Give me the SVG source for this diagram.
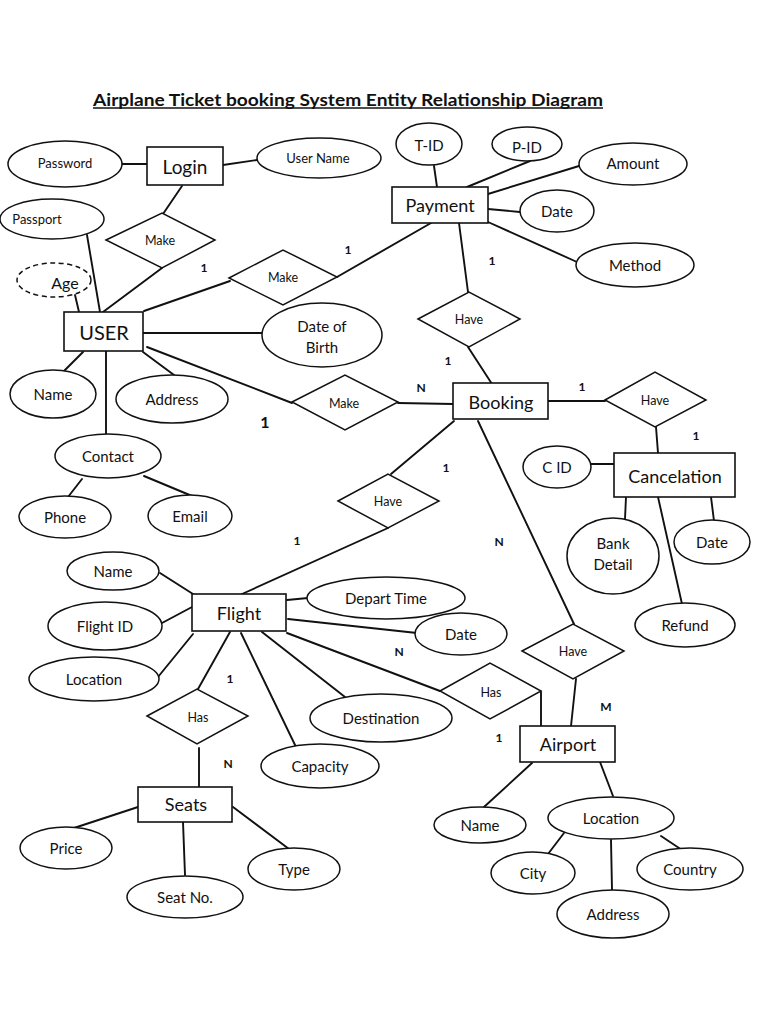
<svg xmlns="http://www.w3.org/2000/svg" width="768" height="1024" viewBox="0 0 768 1024">
<style>
text{font-family:Lato,"Open Sans","DejaVu Sans",sans-serif;fill:#111;text-anchor:middle;dominant-baseline:central}
.ent rect{fill:#fff;stroke:#111;stroke-width:1.6}
.ent text{font-size:18px}
.att ellipse{fill:#fff;stroke:#111;stroke-width:1.5}
.att text{font-size:15px}
.att.sm text{font-size:13px}
.rel polygon{fill:#fff;stroke:#111;stroke-width:1.5}
.rel text{font-size:12.5px}
#connectors line{stroke:#111;stroke-width:1.9;stroke-linecap:round}
.card{font-size:12px;font-weight:bold}
.card.big{font-size:16px}
.title{font-size:17.5px;font-weight:bold}
</style>
<rect width="768" height="1024" fill="#fff"/>
<text class="title" x="348" y="99" textLength="510" lengthAdjust="spacingAndGlyphs">Airplane Ticket booking System Entity Relationship Diagram</text>
<line x1="93" y1="108" x2="603" y2="108" stroke="#111" stroke-width="1.4"/>

<g id="connectors">
<line x1="122" y1="164" x2="147" y2="164"/>
<line x1="223" y1="165" x2="257" y2="160"/>
<line x1="182" y1="186" x2="163" y2="214"/>
<line x1="162" y1="268" x2="103" y2="312"/>
<line x1="87" y1="235" x2="100" y2="312"/>
<line x1="75" y1="295" x2="79" y2="312"/>
<line x1="144" y1="311" x2="230" y2="281"/>
<line x1="337" y1="277" x2="431" y2="223"/>
<line x1="143" y1="333" x2="262" y2="333"/>
<line x1="83" y1="352" x2="63" y2="372"/>
<line x1="143" y1="352" x2="174" y2="375"/>
<line x1="106" y1="351" x2="106" y2="434"/>
<line x1="147" y1="347" x2="292" y2="403"/>
<line x1="398" y1="403" x2="453" y2="404"/>
<line x1="82" y1="479" x2="68" y2="497"/>
<line x1="144" y1="476" x2="192" y2="496"/>
<line x1="434" y1="166" x2="437" y2="187"/>
<line x1="530" y1="161" x2="467" y2="187"/>
<line x1="579" y1="166" x2="488" y2="194"/>
<line x1="520" y1="212" x2="488" y2="209"/>
<line x1="577" y1="262" x2="488" y2="222"/>
<line x1="459" y1="223" x2="468" y2="292"/>
<line x1="468" y1="347" x2="492" y2="384"/>
<line x1="548" y1="401" x2="605" y2="401"/>
<line x1="656" y1="427" x2="658" y2="453"/>
<line x1="591" y1="464" x2="614" y2="464"/>
<line x1="626" y1="497" x2="625" y2="519"/>
<line x1="658" y1="497" x2="682" y2="604"/>
<line x1="711" y1="497" x2="714" y2="521"/>
<line x1="454" y1="421" x2="391" y2="474"/>
<line x1="388" y1="528" x2="242" y2="594"/>
<line x1="478" y1="421" x2="574" y2="624"/>
<line x1="576" y1="679" x2="571" y2="726"/>
<line x1="287" y1="633" x2="440" y2="691"/>
<line x1="541" y1="692" x2="541" y2="726"/>
<line x1="160" y1="573" x2="193" y2="594"/>
<line x1="162" y1="623" x2="192" y2="607"/>
<line x1="158" y1="677" x2="193" y2="634"/>
<line x1="230" y1="632" x2="198" y2="689"/>
<line x1="241" y1="633" x2="296" y2="747"/>
<line x1="262" y1="632" x2="345" y2="697"/>
<line x1="287" y1="600" x2="308" y2="598"/>
<line x1="288" y1="619" x2="417" y2="633"/>
<line x1="199" y1="748" x2="199" y2="787"/>
<line x1="138" y1="807" x2="74" y2="828"/>
<line x1="183" y1="822" x2="185" y2="875"/>
<line x1="233" y1="807" x2="289" y2="849"/>
<line x1="532" y1="763" x2="484" y2="807"/>
<line x1="600" y1="762" x2="613" y2="796"/>
<line x1="564" y1="833" x2="548" y2="854"/>
<line x1="611" y1="840" x2="612" y2="890"/>
<line x1="661" y1="836" x2="682" y2="850"/>
</g>

<!-- Entities -->
<g id="login" class="ent"><rect x="147" y="147" width="76" height="38"/><text x="185" y="166" style="font-size:19px">Login</text></g>
<g id="payment" class="ent"><rect x="392" y="187" width="96" height="36"/><text x="440" y="205">Payment</text></g>
<g id="user" class="ent"><rect x="64" y="312" width="79" height="39"/><text x="104" y="332" style="font-size:20px">USER</text></g>
<g id="booking" class="ent"><rect x="453" y="383" width="95" height="36"/><text x="501" y="402">Booking</text></g>
<g id="cancelation" class="ent"><rect x="614" y="453" width="121" height="44"/><text x="675" y="476">Cancelation</text></g>
<g id="flight" class="ent"><rect x="192" y="594" width="94" height="37"/><text x="239" y="613">Flight</text></g>
<g id="airport" class="ent"><rect x="520" y="726" width="95" height="36"/><text x="568" y="744">Airport</text></g>
<g id="seats" class="ent"><rect x="138" y="787" width="94" height="35"/><text x="186" y="804">Seats</text></g>

<!-- Relationships -->
<g id="rel-make-login" class="rel"><polygon points="106,240 162,213 215,240 162,268"/><text x="160" y="240">Make</text></g>
<g id="rel-make-payment" class="rel"><polygon points="229,278 283,250 337,277 283,305"/><text x="283" y="277">Make</text></g>
<g id="rel-make-booking" class="rel"><polygon points="292,402 345,375 398,402 345,430"/><text x="344" y="403">Make</text></g>
<g id="rel-have-payment" class="rel"><polygon points="418,319 469,292 520,319 469,347"/><text x="469" y="319">Have</text></g>
<g id="rel-have-cancel" class="rel"><polygon points="605,400 655,372 706,400 655,427"/><text x="655" y="400">Have</text></g>
<g id="rel-have-flight" class="rel"><polygon points="338,501 388,474 439,501 388,528"/><text x="388" y="501">Have</text></g>
<g id="rel-have-airport" class="rel"><polygon points="522,651 573,624 624,651 573,679"/><text x="573" y="651">Have</text></g>
<g id="rel-has-airport" class="rel"><polygon points="440,691 490,663 541,691 490,719"/><text x="491" y="692">Has</text></g>
<g id="rel-has-seats" class="rel"><polygon points="147,716 197,689 248,716 197,744"/><text x="198" y="717">Has</text></g>

<!-- Attributes -->
<g id="att-password" class="att sm"><ellipse cx="65" cy="164" rx="57" ry="23"/><text x="65" y="163">Password</text></g>
<g id="att-username" class="att sm"><ellipse cx="319" cy="158" rx="62" ry="20"/><text x="318" y="158">User Name</text></g>
<g id="att-passport" class="att sm"><ellipse cx="52" cy="219" rx="52" ry="20"/><text x="37" y="219">Passport</text></g>
<g id="att-age" class="att"><ellipse cx="54" cy="280" rx="37" ry="17" stroke-dasharray="5,3.5"/><text x="65" y="282" style="font-size:16px">Age</text></g>
<g id="att-dob" class="att"><ellipse cx="322" cy="335" rx="60" ry="32"/><text x="322" y="326">Date of</text><text x="322" y="347">Birth</text></g>
<g id="att-user-name" class="att"><ellipse cx="53" cy="394" rx="43" ry="24"/><text x="53" y="394">Name</text></g>
<g id="att-user-address" class="att"><ellipse cx="172" cy="399" rx="56" ry="24"/><text x="172" y="399">Address</text></g>
<g id="att-contact" class="att"><ellipse cx="108" cy="456" rx="53" ry="22"/><text x="108" y="456">Contact</text></g>
<g id="att-phone" class="att"><ellipse cx="65" cy="517" rx="46" ry="21"/><text x="65" y="517">Phone</text></g>
<g id="att-email" class="att"><ellipse cx="190" cy="516" rx="42" ry="21"/><text x="190" y="516">Email</text></g>
<g id="att-tid" class="att"><ellipse cx="429" cy="144" rx="33" ry="21"/><text x="429" y="145">T-ID</text></g>
<g id="att-pid" class="att"><ellipse cx="527" cy="144" rx="35" ry="17"/><text x="527" y="147">P-ID</text></g>
<g id="att-amount" class="att"><ellipse cx="633" cy="164" rx="54" ry="21"/><text x="633" y="163">Amount</text></g>
<g id="att-pay-date" class="att"><ellipse cx="557" cy="211" rx="37" ry="21"/><text x="557" y="211">Date</text></g>
<g id="att-method" class="att"><ellipse cx="635" cy="265" rx="59" ry="22"/><text x="635" y="265">Method</text></g>
<g id="att-cid" class="att"><ellipse cx="557" cy="467" rx="34" ry="21"/><text x="557" y="467">C ID</text></g>
<g id="att-bank" class="att"><ellipse cx="613" cy="556" rx="46" ry="38"/><text x="613" y="543">Bank</text><text x="613" y="564">Detail</text></g>
<g id="att-cancel-date" class="att"><ellipse cx="712" cy="542" rx="38" ry="22"/><text x="712" y="542">Date</text></g>
<g id="att-refund" class="att"><ellipse cx="685" cy="625" rx="50" ry="22"/><text x="685" y="625">Refund</text></g>
<g id="att-flight-name" class="att"><ellipse cx="113" cy="571" rx="46" ry="19"/><text x="113" y="571">Name</text></g>
<g id="att-flightid" class="att"><ellipse cx="105" cy="626" rx="57" ry="24"/><text x="105" y="626">Flight ID</text></g>
<g id="att-flight-location" class="att"><ellipse cx="94" cy="679" rx="65" ry="22"/><text x="94" y="679">Location</text></g>
<g id="att-depart" class="att"><ellipse cx="386" cy="598" rx="79" ry="21"/><text x="386" y="598">Depart Time</text></g>
<g id="att-flight-date" class="att"><ellipse cx="461" cy="634" rx="46" ry="21"/><text x="461" y="634">Date</text></g>
<g id="att-destination" class="att"><ellipse cx="381" cy="718" rx="71" ry="24"/><text x="381" y="718">Destination</text></g>
<g id="att-capacity" class="att"><ellipse cx="320" cy="766" rx="59" ry="22"/><text x="320" y="766">Capacity</text></g>
<g id="att-price" class="att"><ellipse cx="66" cy="848" rx="46" ry="21"/><text x="66" y="848">Price</text></g>
<g id="att-seatno" class="att"><ellipse cx="185" cy="897" rx="58" ry="21"/><text x="185" y="897">Seat No.</text></g>
<g id="att-type" class="att"><ellipse cx="294" cy="869" rx="46" ry="21"/><text x="294" y="869">Type</text></g>
<g id="att-airport-name" class="att"><ellipse cx="480" cy="825" rx="46" ry="18"/><text x="480" y="825">Name</text></g>
<g id="att-airport-location" class="att"><ellipse cx="611" cy="818" rx="63" ry="21"/><text x="611" y="818">Location</text></g>
<g id="att-city" class="att"><ellipse cx="533" cy="873" rx="42" ry="21"/><text x="533" y="873">City</text></g>
<g id="att-country" class="att"><ellipse cx="690" cy="869" rx="53" ry="21"/><text x="690" y="869">Country</text></g>
<g id="att-airport-address" class="att"><ellipse cx="613" cy="914" rx="56" ry="24"/><text x="613" y="914">Address</text></g>

<!-- Cardinalities -->
<g id="cardinalities">
<text class="card" x="204" y="267">1</text>
<text class="card" x="348" y="249">1</text>
<text class="card" x="492" y="260">1</text>
<text class="card" x="448" y="360">1</text>
<text class="card" x="421" y="387">N</text>
<text class="card big" x="265" y="421">1</text>
<text class="card" x="582" y="386">1</text>
<text class="card" x="696" y="435">1</text>
<text class="card" x="446" y="467">1</text>
<text class="card" x="499" y="541">N</text>
<text class="card" x="297" y="540">1</text>
<text class="card" x="230" y="678">1</text>
<text class="card" x="228" y="763">N</text>
<text class="card" x="399" y="651">N</text>
<text class="card" x="499" y="737">1</text>
<text class="card" x="606" y="706">M</text>
</g>
</svg>
